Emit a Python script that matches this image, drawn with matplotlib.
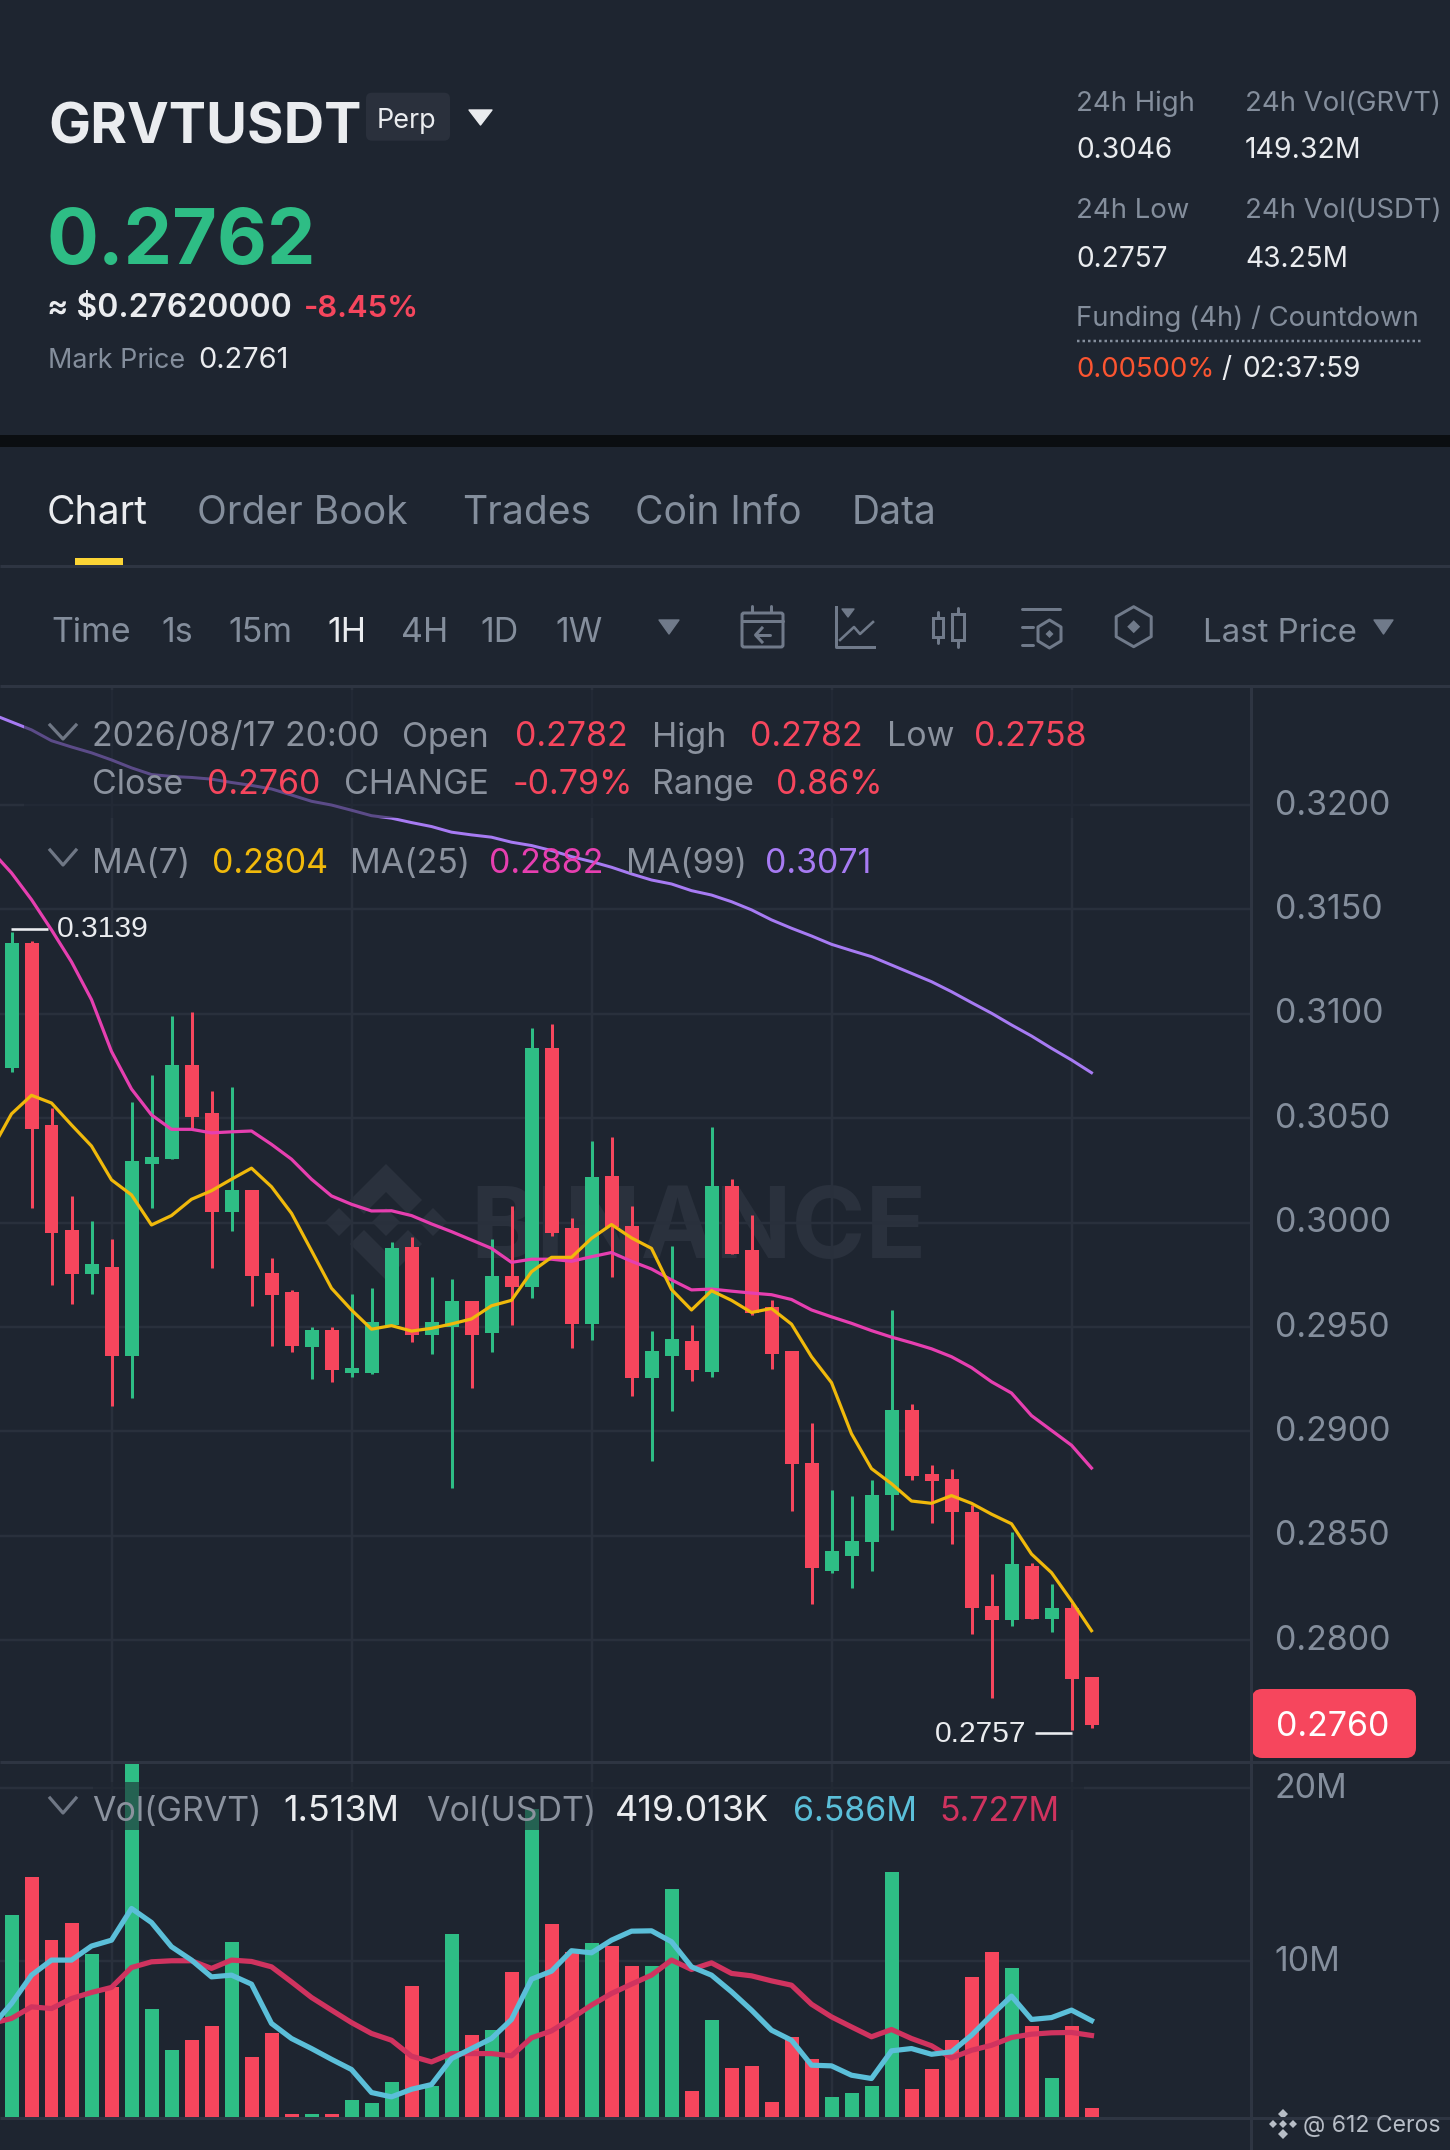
import matplotlib
matplotlib.use("Agg")
import matplotlib.pyplot as plt
from matplotlib.patches import FancyBboxPatch, Polygon, Rectangle
from matplotlib.transforms import ScaledTranslation

# candle data
opens = [.3074, .3134, .3047, .29965, .29754, .29786, .29363, .30283, .30304, .30755, .30524, .30053, .30157, .29758,
         .29667, .29403, .29486, .29279, .29282, .2951, .29885, .29462, .29502, .29625, .29473, .29746, .29693, .30837,
         .29976, .29513, .30225, .29985, .29254, .29362, .29435, .29283, .30176, .29867, .29597, .29387, .28847, .28334,
         .28403, .28473, .28694, .29105, .28797, .28774, .28615, .28166, .28095, .28355, .28101, .28155, .27825]
highs = [.3139, .3135, .3055, .30128, .3001, .2992, .30578, .30709, .3099, .3101, .30629, .3065, .30157, .2983,
         .29678, .295, .295, .29658, .29689, .29909, .2993, .29738, .2973, .29625, .2992, .3008, .30932, .30949,
         .30021, .3039, .30409, .30079, .29481, .2989, .29508, .30459, .3021, .30037, .29628, .29387, .2904, .28718,
         .28689, .28768, .2958, .2913, .28839, .28818, .28646, .28318, .28519, .2837, .28268, .28178, .27825]
lows = [.3072, .3007, .2970, .2961, .2966, .2912, .29162, .30072, .30304, .30453, .29782, .2996, .29601, .2941,
        .29379, .2925, .29238, .2926, .29275, .2951, .2943, .2937, .2873, .2921, .29379, .2951, .29641, .29938,
        .294, .29438, .29741, .29171, .2886, .291, .29242, .29263, .29852, .2956, .293, .28621, .28172, .2832,
        .28251, .2833, .28529, .2877, .28561, .28459, .28029, .27722, .2807, .28101, .28039, .27572, .27582]
closes = [.3134, .3045, .2995, .29754, .2980, .29363, .30297, .30316, .30755, .30505, .30053, .30157, .29745, .29654,
          .2941, .29486, .29293, .29306, .29526, .29877, .29462, .29526, .29625, .29462, .29746, .29693, .30837, .29952,
          .29513, .30217, .29981, .29254, .29385, .29445, .29294, .30176, .29852, .29566, .29373, .28843, .28345, .28426,
          .28475, .28696, .29105, .28785, .28764, .28615, .28154, .28095, .28365, .28101, .28155, .27815, .27593]

# moving averages start one candle left of the screen
ma7 = [.30348, .30521, .3061, .30573, .30468, .30367, .30205, .30133, .29989, .30034, .30112, .30153, .30208, .30261,
       .30172, .30045, .29866, .29686, .29582, .2949, .29507, .29481, .29494, .29515, .29539, .29602, .29628, .29765,
       .29834, .29834, .29925, .29991, .29927, .29877, .2968, .29582, .29674, .29628, .2957, .29589, .29514, .29358,
       .29234, .28989, .28822, .2875, .28667, .28656, .28693, .28656, .28604, .28558, .28413, .28324, .28189, .28046]
ma25 = [.3178, .31675, .31547, .31402, .31249, .31068, .3082, .3064, .30516, .30447, .30447, .3043, .30435, .30439,
        .30375, .30304, .30208, .30128, .30088, .30056, .30057, .30034, .29994, .29957, .29917, .29877, .2981, .29825,
        .29825, .29815, .29837, .29857, .29815, .29778, .29726, .29678, .29682, .29672, .29663, .29655, .29632, .29582,
        .29549, .29518, .29483, .29452, .29425, .29396, .29358, .29306, .29238, .29184, .29076, .29005, .28934, .28825]
ma99 = [.32436, .32398, .3236, .32308, .32278, .3225, .32216, .32178, .32146, .32137, .32132, .32124, .32108, .32094,
        .32077, .32048, .32018, .32, .31975, .31949, .31937, .31916, .31897, .3187, .31857, .31846, .31822, .31806,
        .31782, .31753, .31729, .31702, .3167, .31641, .31622, .3159, .31569, .31537, .31498, .3145, .3141, .31373,
        .31333, .31303, .31274, .31234, .31194, .31154, .31106, .31054, .31003, .30947, .30894, .30835, .30779, .30718]

# volume in millions
volumes = [12.66, 14.86, 11.23, 12.22, 10.44, 8.54, 21.4, 7.24, 4.91, 5.49, 6.30, 11.14, 4.47, 5.84, 1.21, 1.21, 1.21,
           1.97, 1.85, 3.03, 8.61, 2.79, 11.6, 5.78, 6.07, 9.38, 18.79, 12.16, 10.56, 11.08, 10.89, 9.75, 9.75, 14.18,
           2.54, 6.61, 3.87, 3.95, 1.87, 5.66, 4.39, 2.16, 2.39, 2.83, 15.16, 2.66, 3.81, 5.49, 9.08, 10.52, 9.6, 6.28,
           3.28, 6.26, 1.513]
vol_ma_blue = [6.22, 7.57, 9.21, 10.08, 10.08, 10.89, 11.23, 13.06, 12.25, 10.85, 10.08, 9.11, 9.21, 8.69, 6.42, 5.55,
               4.97, 4.35, 3.76, 2.43, 2.18, 2.62, 2.89, 4.39, 4.97, 5.55, 6.65, 8.98, 9.44, 10.62, 10.5, 11.23, 11.75,
               11.77, 11.14, 9.69, 9.21, 8.25, 7.19, 6.03, 5.45, 4.01, 3.97, 3.43, 3.24, 4.84, 4.97, 4.64, 4.78, 5.74,
               6.9, 8.0, 6.65, 6.76, 7.19, 6.586]
vol_ma_red = [6.42, 6.71, 7.38, 7.28, 7.86, 8.21, 8.5, 9.65, 9.98, 10.04, 10.04, 9.6, 10.08, 10.0, 9.69, 8.82, 7.92,
              7.19, 6.47, 5.84, 5.45, 4.53, 4.2, 4.68, 4.68, 4.68, 4.55, 5.59, 5.99, 6.71, 7.48, 8.15, 8.69, 9.21, 10.08,
              9.54, 9.92, 9.31, 9.17, 8.88, 8.63, 7.53, 6.8, 6.22, 5.65, 6.07, 5.55, 5.13, 4.43, 4.87, 5.16, 5.61, 5.8,
              5.88, 5.9, 5.727]

price_ticks = [.32, .315, .31, .305, .30, .295, .29, .285, .28]
price_labels = ['0.3200', '0.3150', '0.3100', '0.3050', '0.3000', '0.2950', '0.2900', '0.2850', '0.2800']
vol_ticks = [10, 20]
vol_labels = ['10M', '20M']
time_grid = [5, 17, 29, 41, 53]

BG = '#1e2530'
LINE = '#2e3542'
GRID = '#29303c'
GREY = '#848e9c'
WHITE = '#eaecef'
GREEN = '#2ebd85'
RED = '#f6465d'
YELLOW = '#f0b90b'
PINK = '#e63fb0'
PURPLE = '#a77bf3'
BLUE = '#5bbfd9'
CRIMSON = '#d0335f'
ICON = '#707a8a'
W, H = 1450, 2150
FONT = 'Inter'


def lw(px):
    return px * 0.72


def pane(top, bottom):
    return fig.add_axes([0, 1 - bottom / H, 1251 / W, (bottom - top) / H])


fig = plt.figure(figsize=(14.5, 21.5), dpi=100, facecolor=BG)

# full-figure layers in pixel coordinates
back = fig.add_axes([0, 0, 1, 1], zorder=0)
front = fig.add_axes([0, 0, 1, 1], zorder=3)
for a in (back, front):
    a.set_xlim(0, W)
    a.set_ylim(H, 0)
    a.axis('off')
    a.patch.set_alpha(0)

# watermark
WM = '#2a313d'
cx, cy = 386, 1222
for dx in (-47, 0, 47):
    back.add_patch(Polygon([(cx + dx, cy - 14), (cx + dx + 14, cy), (cx + dx, cy + 14), (cx + dx - 14, cy)], color=WM, lw=0))
for s in (1, -1):
    back.add_patch(Polygon([(cx, cy - 58 * s), (cx + 36, cy - 22 * s), (cx + 22, cy - 8 * s), (cx, cy - 30 * s),
                            (cx - 22, cy - 8 * s), (cx - 36, cy - 22 * s)], color=WM, lw=0))
back.text(470, 1258, 'BINANCE', color=WM, fontsize=100 * 0.72, fontweight='bold', family=FONT, va='baseline')

# price pane
ax = pane(686, 1761)
ax.set_zorder(1)
ax.patch.set_alpha(0)
xs = list(range(len(opens)))
colors = [GREEN if c >= o else RED for o, c in zip(opens, closes)]
ax.vlines(xs, lows, highs, colors=colors, lw=lw(3), zorder=3)
ax.bar(xs, [abs(c - o) for o, c in zip(opens, closes)], bottom=[min(o, c) for o, c in zip(opens, closes)],
       width=0.7, color=colors, zorder=3)
ma_x = list(range(-1, len(opens)))
ax.plot(ma_x, ma99, color=PURPLE, lw=lw(3), zorder=4)
ax.plot(ma_x, ma25, color=PINK, lw=lw(3.2), zorder=4)
ax.plot(ma_x, ma7, color=YELLOW, lw=lw(3.2), zorder=4)
ax.set_xlim(-0.575, 61.975)
ax.set_ylim(.27422, .3257)
ax.set_yticks(price_ticks)
ax.set_yticklabels(price_labels)

# volume pane
ax2 = pane(1762, 2117)
ax2.set_zorder(1)
ax2.patch.set_alpha(0)
ax2.bar(xs, volumes, width=0.7, color=colors, zorder=3)
ax2.plot(ma_x, vol_ma_red, color=CRIMSON, lw=lw(5.2), zorder=4)
ax2.plot(ma_x, vol_ma_blue, color=BLUE, lw=lw(5.2), zorder=4)
ax2.set_xlim(-0.575, 61.975)
ax2.set_ylim(1.017, 21.52)
ax2.set_yticks(vol_ticks)
ax2.set_yticklabels(vol_labels)

for a in (ax, ax2):
    a.set_xticks(time_grid)
    a.set_xticklabels([])
    a.grid(True, color=GRID, lw=lw(2.5), zorder=1)
    a.set_axisbelow(True)
    a.yaxis.tick_right()
    a.tick_params(axis='both', length=0, labelsize=34 * 0.72, labelcolor=GREY, pad=17)
    for lab in a.get_yticklabels():
        lab.set_family(FONT)
        # labels sit a little above their gridline
        lab.set_transform(lab.get_transform() + ScaledTranslation(0, 3 / 100, fig.dpi_scale_trans))
    for sp in a.spines.values():
        sp.set_visible(False)


def t(x, y, s, c=GREY, px=34, w='normal', ha='left', fam=FONT):
    front.text(x, y, s, color=c, fontsize=px * 0.72, fontweight=w, ha=ha, va='baseline', family=fam)


def line(x0, y0, x1, y1, c=LINE, px=3, **kw):
    front.plot([x0, x1], [y0, y1], color=c, lw=lw(px), solid_capstyle=kw.pop('cap', 'butt'), **kw)


def tri(x0, x1, y0, y1, c):
    front.add_patch(Polygon([(x0, y0), (x1, y0), ((x0 + x1) / 2, y1)], facecolor=c, edgecolor=c, lw=1, joinstyle='round'))


def chevron(y0, y1):
    front.plot([50, 63, 76], [y0, y1, y0], color='#6f7785', lw=lw(3.2))


# dim boxes behind the pane legends
front.add_patch(Rectangle((24, 690), 1066, 128, facecolor=BG, alpha=0.55, lw=0))
front.add_patch(Rectangle((93, 1782), 991, 48, facecolor=BG, alpha=0.6, lw=0))

# header
t(48, 143.3, 'GRVTUSDT', WHITE, 56, 'bold')
front.add_patch(FancyBboxPatch((370, 96.7), 76, 40, boxstyle='round,pad=4,rounding_size=6', facecolor='#2a303c', lw=0))
t(377, 128, 'Perp', WHITE, 27)
tri(469, 492, 110, 125, WHITE)
t(47, 264, '0.2762', GREEN, 77, 'bold')
t(47, 316.7, '≈ $0.27620000', WHITE, 32, 'semibold', fam=[FONT, 'DejaVu Sans'])
t(304, 316.7, '-8.45%', RED, 31, 'semibold')
t(48, 368, 'Mark Price', GREY, 27)
t(198, 368, '0.2761', WHITE, 29)

t(1076, 111, '24h High', GREY, 27.5)
t(1245, 111, '24h Vol(GRVT)', GREY, 27.5)
t(1076, 157.7, '0.3046', WHITE, 28)
t(1245, 157.7, '149.32M', WHITE, 28.5)
t(1076, 218.3, '24h Low', GREY, 27.5)
t(1245, 218.3, '24h Vol(USDT)', GREY, 27.5)
t(1076, 266.7, '0.2757', WHITE, 28)
t(1245, 266.7, '43.25M', WHITE, 28)
t(1076, 326, 'Funding (4h) / Countdown', GREY, 27.5)
front.plot([1077, 1422], [340.7, 340.7], color=GREY, lw=lw(2.5), ls=(0, (1, 1.2)))
t(1076, 376.7, '0.00500%', '#fb5530', 27.5)
t(1221, 376.7, '/', WHITE, 28)
t(1242, 376.7, '02:37:59', WHITE, 28)

# black stripe, tabs
front.add_patch(Rectangle((0, 435), W, 12, facecolor='#0b0e11', lw=0))
t(47, 524.3, 'Chart', WHITE, 39)
t(197, 524.3, 'Order Book', GREY, 39)
t(462, 524.3, 'Trades', GREY, 39)
t(635, 524.3, 'Coin Info', GREY, 39)
t(852, 524.3, 'Data', GREY, 39)
line(0, 565.7, W, 565.7)
front.add_patch(Rectangle((75, 557.7), 48, 9.3, facecolor='#fcd535', lw=0))

# interval row
t(51, 641.7, 'Time', GREY, 34)
t(161, 641.7, '1s', GREY, 34)
t(228, 641.7, '15m', GREY, 34)
t(327, 641.7, '1H', WHITE, 34)
t(401, 641.7, '4H', GREY, 34)
t(480, 641.7, '1D', GREY, 34)
t(555, 641.7, '1W', GREY, 34)
tri(659, 679, 620, 634, ICON)
t(1203, 641.7, 'Last Price', GREY, 33)
tri(1374, 1393, 620, 634, ICON)
line(0, 685.7, W, 685.7)

# toolbar icons
ic = dict(c=ICON, px=3, cap='round')
front.add_patch(FancyBboxPatch((742, 613), 41, 34, boxstyle='round,pad=0,rounding_size=2', facecolor='none', edgecolor=ICON, lw=lw(3)))
line(742, 621, 783, 621, **ic)
line(752, 606, 752, 612, **ic)
line(771.5, 606, 771.5, 612, **ic)
line(756, 635, 770, 635, **ic)
front.plot([762, 755.5, 762], [628, 635, 642], color=ICON, lw=lw(3))
front.plot([836, 836, 874], [607, 646.5, 646.5], color=ICON, lw=lw(3))
tri(842, 854, 609, 617, ICON)
front.plot([840, 854, 860, 873], [640, 627, 634, 622], color=ICON, lw=lw(2.6))
for xc, bx0, bx1, y0, y1, wy0, wy1 in ((938, 933, 943, 618, 637, 612, 643), (958, 952, 964, 614, 640, 608, 647)):
    line(xc, wy0, xc, y0, **ic)
    line(xc, y1, xc, wy1, **ic)
    front.add_patch(Rectangle((bx0, y0), bx1 - bx0, y1 - y0, facecolor='none', edgecolor=ICON, lw=lw(3)))
line(1022, 609, 1060, 609, **ic)
line(1022, 627, 1033, 627, **ic)
line(1022, 645, 1033, 645, **ic)
for hx, hy, hw, hh, dw, dh in ((1049.5, 634, 23, 28, 8, 8), (1133.7, 626.7, 35, 40, 13, 13)):
    front.add_patch(Polygon([(hx, hy - hh / 2), (hx + hw / 2, hy - hh / 4), (hx + hw / 2, hy + hh / 4), (hx, hy + hh / 2),
                             (hx - hw / 2, hy + hh / 4), (hx - hw / 2, hy - hh / 4)], closed=True, facecolor='none',
                            edgecolor=ICON, lw=lw(3), joinstyle='round'))
    front.add_patch(Polygon([(hx, hy - dh / 2), (hx + dw / 2, hy), (hx, hy + dh / 2), (hx - dw / 2, hy)], facecolor=ICON, lw=0))

# chart legend
chevron(725, 739)
LG = '#8b929e'
t(92.5, 746.5, '2026/08/17 20:00', LG)
t(402.5, 746.5, 'Open', LG)
t(515, 746.5, '0.2782', RED)
t(652, 746.5, 'High', LG)
t(750, 746.5, '0.2782', RED)
t(887, 746.5, 'Low', LG)
t(974, 746.5, '0.2758', RED)
t(92.5, 794.3, 'Close', LG)
t(207, 794.3, '0.2760', RED)
t(344, 794.3, 'CHANGE', LG)
t(513, 794.3, '-0.79%', RED)
t(652, 794.3, 'Range', LG)
t(776, 794.3, '0.86%', RED)
chevron(850, 865)
t(92.5, 873, 'MA(7)', LG)
t(212, 873, '0.2804', YELLOW)
t(350, 873, 'MA(25)', LG)
t(489.5, 873, '0.2882', PINK)
t(626.5, 873, 'MA(99)', LG)
t(765.5, 873, '0.3071', PURPLE)

# high / low tags
line(11.5, 929, 47.8, 929, WHITE, 2.6)
t(57, 937, '0.3139', WHITE, 30, fam='Liberation Sans')
line(1035, 1733, 1071.6, 1733, WHITE, 2.6)
t(934.6, 1741.8, '0.2757', WHITE, 30, fam='Liberation Sans')

# last price tag
front.add_patch(FancyBboxPatch((1261, 1698), 146, 51, boxstyle='round,pad=9,rounding_size=10', facecolor=RED, lw=0))
t(1333, 1736, '0.2760', 'white', 34, ha='center')

# pane frames
line(0, 1761.7, W, 1761.7)
line(0, 2117.5, W, 2117.5)
line(1251, 686, 1251, H)

# volume legend
chevron(1798, 1813)
t(92.5, 1820.7, 'Vol(GRVT)', LG)
t(283, 1820.7, '1.513M', WHITE, 36)
t(426, 1820.7, 'Vol(USDT)', LG)
t(615, 1820.7, '419.013K', WHITE, 36)
t(793, 1820.7, '6.586M', BLUE)
t(939, 1820.7, '5.727M', CRIMSON)

# credit bottom right
lx, ly = 1283, 2124
for ddx, ddy, r in ((0, -10, 5), (-10, 0, 4), (10, 0, 4), (0, 10, 5), (0, 0, 4)):
    front.add_patch(Polygon([(lx + ddx, ly + ddy - r), (lx + ddx + r, ly + ddy), (lx + ddx, ly + ddy + r),
                             (lx + ddx - r, ly + ddy)], facecolor='#b7bdc6', lw=0))
t(1303, 2132, '@ 612 Ceros', '#b7bdc6', 23)

fig.savefig('out.png', dpi=100, facecolor=BG)
